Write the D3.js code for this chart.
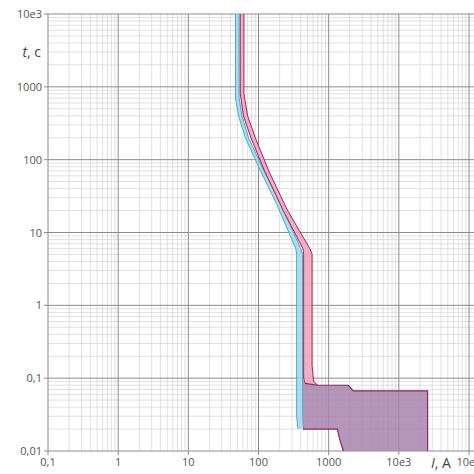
<!DOCTYPE html>
<html><head><meta charset="utf-8">
<script src="https://cdn.jsdelivr.net/npm/d3@7"></script>
<style>body{margin:0;background:#fff}svg{font-family:"Open Sans",sans-serif}</style>
</head><body><svg id="c" width="474" height="474"></svg>
<script>
var xTicks = [0.1, 1, 10, 100, 1000, 10000, 100000];
var xLabels = ["0,1", "1", "10", "100", "1000", "10e3", "10e4"];
var yTicks = [0.01, 0.1, 1, 10, 100, 1000, 10000];
var yLabels = ["0,01", "0,1", "1", "10", "100", "1000", "10e3"];

var blueLeft = [[47,1e4],[47,700],[52,400],[65,200],[100,80],[180,25],[340,6],[350,5],[350,0.03],[365,0.02]];
var blueRight = [[53,1e4],[53,700],[58,400],[72,200],[112,80],[205,25],[400,6],[425,5],[425,0.03],[440,0.02]];
var redLeft = [[55,1e4],[55,800],[61,400],[78,200],[122,70],[225,20],[430,6],[440,5],[440,0.1],[460,0.085]];
var redRight = [[62,1e4],[62,800],[70,400],[90,200],[140,70],[260,20],[540,6],[580,5],[580,0.15],[610,0.09],[700,0.08]];
var purple = [[430,0.1],[460,0.085],[700,0.08],[1900,0.08],[2250,0.067],[25700,0.067],[25700,0.01],[1620,0.01],[1450,0.014],[1330,0.02],[430,0.02]];
var purpleTop = [[460,0.085],[700,0.08],[1900,0.08],[2250,0.067],[25700,0.067],[25700,0.01]];
var purpleBottom = [[430,0.02],[1330,0.02],[1450,0.014],[1620,0.01]];

var svg = d3.select("#c");
var x = d3.scaleLog().domain([0.1, 1e5]).range([48, 469]);
var y = d3.scaleLog().domain([0.01, 1e4]).range([451, 14]);
var g = svg.append("g");

// grid
var minor = [];
for (var d = 0.1; d < 1e5; d *= 10) for (var k = 2; k <= 9; k++) minor.push(d * k);
var minorY = [];
for (var d2 = 0.01; d2 < 1e4; d2 *= 10) for (var k2 = 2; k2 <= 9; k2++) minorY.push(d2 * k2);
g.selectAll(".mx").data(minor).enter().append("line")
  .attr("x1", d => x(d)).attr("x2", d => x(d)).attr("y1", 14).attr("y2", 451)
  .attr("stroke", "#d4d4d4").attr("stroke-width", 0.7);
g.selectAll(".my").data(minorY).enter().append("line")
  .attr("y1", d => y(d)).attr("y2", d => y(d)).attr("x1", 48).attr("x2", 474)
  .attr("stroke", "#d4d4d4").attr("stroke-width", 0.7);
g.selectAll(".Mx").data(xTicks).enter().append("line")
  .attr("x1", d => x(d)).attr("x2", d => x(d)).attr("y1", 14).attr("y2", 455)
  .attr("stroke", "#8c8c8c").attr("stroke-width", 1);
g.selectAll(".My").data(yTicks).enter().append("line")
  .attr("y1", d => y(d)).attr("y2", d => y(d)).attr("x1", 44).attr("x2", 474)
  .attr("stroke", "#8c8c8c").attr("stroke-width", 1);

var line = d3.line().x(d => x(d[0])).y(d => y(d[1]));
function band(l, r, fill, edge) {
  g.append("path").attr("d", line(l.concat(r.slice().reverse())) + "Z")
    .attr("fill", fill).attr("opacity", 0.85);
  [l, r].forEach(p => g.append("path").attr("d", line(p))
    .attr("fill", "none").attr("stroke", edge).attr("stroke-width", 1));
}
band(blueLeft, blueRight, "#9fd8ea", "#4aa8c8");
band(redLeft, redRight, "#eda2bb", "#a3245a");
g.append("path").attr("d", line(purple) + "Z").attr("fill", "#a883ad").attr("opacity", 0.85);
[purpleTop, purpleBottom].forEach(p => g.append("path").attr("d", line(p))
  .attr("fill", "none").attr("stroke", "#8a2a60").attr("stroke-width", 1.2));

// labels
svg.selectAll(".yl").data(yTicks).enter().append("text")
  .attr("x", 42).attr("y", (d, i) => y(d) + 4).attr("text-anchor", "end")
  .attr("font-size", 11).attr("fill", "#555").text((d, i) => yLabels[i]);
svg.selectAll(".xl").data(xTicks).enter().append("text")
  .attr("x", d => x(d)).attr("y", 466).attr("text-anchor", "middle")
  .attr("font-size", 11).attr("fill", "#555").text((d, i) => xLabels[i]);
var ty = svg.append("text").attr("x", 41).attr("y", 57).attr("text-anchor", "end")
  .attr("font-size", 14).attr("fill", "#444");
ty.append("tspan").attr("font-style", "italic").text("t");
ty.append("tspan").text(", c");
svg.append("rect").attr("x", 424).attr("y", 455).attr("width", 34).attr("height", 19).attr("fill", "#fff");
var tx = svg.append("text").attr("x", 441).attr("y", 468).attr("text-anchor", "middle")
  .attr("font-size", 14).attr("fill", "#444");
tx.append("tspan").attr("font-style", "italic").text("I");
tx.append("tspan").text(", A");
</script></body></html>
